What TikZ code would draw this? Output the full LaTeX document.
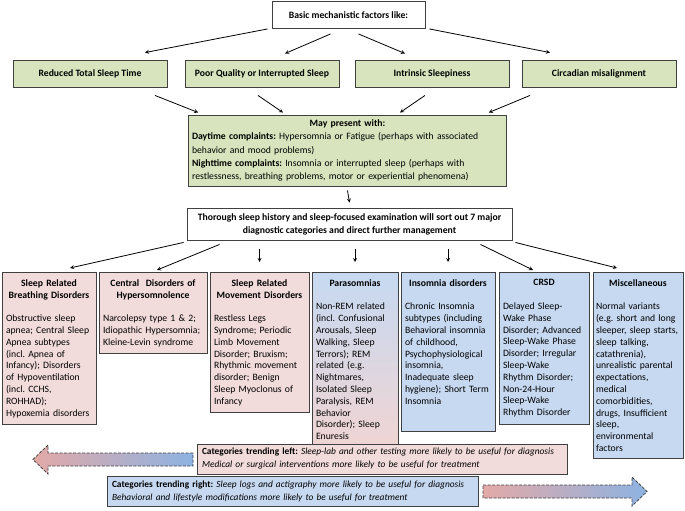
\documentclass[tikz,border=0pt]{standalone}
\usepackage{fontspec}
\setmainfont{Carlito}
\usetikzlibrary{positioning}
\frenchspacing

\definecolor{factorgreen}{HTML}{D7E4BD}
\definecolor{catpink}{HTML}{F2DCDB}
\definecolor{catblue}{HTML}{C6D9F1}
\definecolor{edgegray}{HTML}{404040}
\definecolor{trendpink}{HTML}{E3A9A7}
\definecolor{trendblue}{HTML}{8DB3E2}

\newcommand{\diagfont}{\fontsize{9.7}{11.8}\selectfont}
\newcommand{\cattitle}[1]{{\centering\bfseries #1\par}\vspace{11.8pt}}

\tikzset{
    plainbox/.style={draw=edgegray, line width=0.9pt, font=\diagfont},
    factorbox/.style={plainbox, fill=factorgreen, font=\diagfont\bfseries,
        minimum width=154pt, minimum height=27pt},
    catbox/.style={plainbox, anchor=north, align=left,
        inner xsep=4pt, inner ysep=7pt},
    trendbox/.style={plainbox, align=left, inner xsep=5pt,
        minimum height=30pt, font=\fontsize{9.4}{13}\selectfont},
    flow/.style={-stealth, line width=0.8pt},
    trendarrow/.style={draw=edgegray, line width=0.8pt,
        dash pattern=on 3pt off 1.5pt, middle color=white},
}

\begin{document}
\begin{tikzpicture}[x=1pt, y=-1pt]
    \useasboundingbox (0,0) rectangle (685,511);

    % Mechanistic factors
    \node [plainbox, fill=white, font=\diagfont\bfseries,
        minimum width=153pt,
        minimum height=27pt,
    ] (basic) at (348.5,15) {Basic mechanistic factors like:};

    \node [factorbox] (reduced) at (90,73.5) {Reduced Total Sleep Time};
    \node [factorbox] (poor) at (262,73.5) {Poor Quality or Interrupted Sleep};
    \node [factorbox] (intrinsic) at (432,73.5) {Intrinsic Sleepiness};
    \node [factorbox] (circadian) at (599,73.5) {Circadian misalignment};

    \draw[flow] ([xshift=-4pt]basic.south west) -- ([xshift=55pt,yshift=7pt]reduced.north);
    \draw[flow] ([xshift=-18pt,yshift=-5pt]basic.south) -- ([xshift=23pt,yshift=6pt]poor.north);
    \draw[flow] ([xshift=10pt,yshift=-5pt]basic.south) -- ([xshift=-27pt,yshift=6pt]intrinsic.north);
    \draw[flow] ([xshift=4pt]basic.south east) -- ([xshift=-49pt,yshift=7pt]circadian.north);

    % Complaints
    \node [plainbox, fill=factorgreen, align=left,
        text width=311pt,
        minimum height=71pt,
        font=\fontsize{9.7}{13.4}\selectfont,
    ] (present) at (347.5,150.5)
        {{\centering\bfseries May present with:\par}
        \textbf{Daytime complaints:} Hypersomnia or Fatigue (perhaps with associated\\
        behavior and mood problems)\\
        \textbf{Nighttime complaints:} Insomnia or interrupted sleep (perhaps with\\
        restlessness, breathing problems, motor or experiential phenomena)};

    \draw[flow] ([xshift=65pt,yshift=-8pt]reduced.south) -- ([xshift=10pt,yshift=2pt]present.north west);
    \draw[flow] ([xshift=-4pt,yshift=-8pt]poor.south) -- ([xshift=-64.5pt,yshift=2pt]present.north);
    \draw[flow] ([xshift=-7pt,yshift=-8pt]intrinsic.south) -- ([xshift=52.5pt,yshift=2pt]present.north);
    \draw[flow] ([xshift=-69pt,yshift=-8pt]circadian.south) -- ([xshift=-18pt,yshift=2pt]present.north east);

    % History
    \node [plainbox, fill=white, align=center,
        minimum width=325pt,
        minimum height=32pt,
        font=\fontsize{9.7}{13}\selectfont\bfseries,
    ] (thorough) at (349.5,224)
        {Thorough sleep history and sleep-focused examination will sort out 7 major\\
        diagnostic categories and direct further management};

    \draw[flow] (present.south) ++(0,4) -- ([yshift=5pt]thorough.north);

    % Categories
    \node [catbox, fill=catpink, text width=86pt] (breathing) at (49,272)
        {\cattitle{Sleep Related\\Breathing Disorders}
        Obstructive sleep\\apnea; Central Sleep\\Apnea subtypes\\(incl. Apnea of\\
        Infancy); Disorders\\of Hypoventilation\\(incl. CCHS,\\ROHHAD);\\Hypoxemia disorders};
    \node [catbox, fill=catpink, text width=100pt] (hypersom) at (153,272)
        {\cattitle{Central~ Disorders of\\Hypersomnolence}
        Narcolepsy type 1 \& 2;\\Idiopathic Hypersomnia;\\Kleine-Levin syndrome};
    \node [catbox, fill=catpink, text width=91pt] (movement) at (259.5,272)
        {\cattitle{Sleep Related\\Movement Disorders}
        Restless Legs\\Syndrome; Periodic\\Limb Movement\\Disorder; Bruxism;\\
        Rhythmic movement\\disorder; Benign\\Sleep Myoclonus of\\Infancy};
    \node [catbox, top color=catblue, bottom color=catpink!85!trendpink,
        text width=78pt] (paraso) at (355,272)
        {\cattitle{Parasomnias}
        Non-REM related\\(incl. Confusional\\Arousals, Sleep\\Walking, Sleep\\
        Terrors); REM\\related (e.g.\\Nightmares,\\Isolated Sleep\\Paralysis, REM\\
        Behavior\\Disorder); Sleep\\Enuresis};
    \node [catbox, fill=catblue, text width=86pt] (insomnia) at (448,272)
        {\cattitle{Insomnia disorders}
        Chronic Insomnia\\subtypes (including\\Behavioral insomnia\\of childhood,\\
        Psychophysiological\\insomnia,\\Inadequate sleep\\hygiene); Short Term\\Insomnia\par
        \vspace{8pt}\mbox{}};
    \node [catbox, fill=catblue, text width=82pt] (crsd) at (544,272)
        {\cattitle{CRSD}
        Delayed Sleep-\\Wake Phase\\Disorder; Advanced\\Sleep-Wake Phase\\
        Disorder; Irregular\\Sleep-Wake\\Rhythm Disorder;\\Non-24-Hour\\
        Sleep-Wake\\Rhythm Disorder};
    \node [catbox, fill=catblue, inner xsep=3pt, text width=84pt] (misc) at (638,272)
        {\cattitle{Miscellaneous}
        Normal variants\\(e.g. short and long\\sleeper, sleep starts,\\sleep talking,\\
        catathrenia),\\unrealistic parental\\expectations,\\medical\\comorbidities,\\
        drugs, Insufficient\\sleep,\\environmental\\factors};

    \draw[flow] ([xshift=-3pt,yshift=-2pt]thorough.south west) -- ([xshift=21pt,yshift=4pt]breathing.north);
    \draw[flow] ([xshift=33pt,yshift=-4pt]thorough.south west) -- ([xshift=4pt,yshift=2pt]hypersom.north);
    \draw[flow, shorten <=9pt, shorten >=10pt] (movement.north |- thorough.south) -- (movement.north);
    \draw[flow, shorten <=9pt, shorten >=10pt] (paraso.north |- thorough.south) -- (paraso.north);
    \draw[flow, shorten <=9pt, shorten >=10pt] (insomnia.north |- thorough.south) -- (insomnia.north);
    \draw[flow] ([xshift=-32pt,yshift=-4pt]thorough.south east) -- ([xshift=-11pt,yshift=2pt]crsd.north);
    \draw[flow] ([xshift=3pt,yshift=-2pt]thorough.south east) -- ([xshift=-21pt,yshift=4pt]misc.north);

    % Trends
    \node [trendbox, fill=catpink, text width=360pt] (trendleft) at (382,459)
        {\textbf{Categories trending left:} \textit{Sleep-lab and other testing more likely to be useful for diagnosis}\\
        \textit{Medical or surgical interventions more likely to be useful for treatment}};
    \node [trendbox, fill=catblue, text width=361pt] (trendright) at (292.5,491.5)
        {\textbf{Categories trending right:} \textit{Sleep logs and actigraphy more likely to be useful for diagnosis}\\
        \textit{Behavioral and lifestyle modifications more likely to be useful for treatment}};

    \shadedraw[trendarrow, left color=trendpink, right color=trendblue]
        (193,453) -- (48,453) -- (48,445) -- (33,459.5) -- (48,474) -- (48,466) -- (193,466) -- cycle;
    \shadedraw[trendarrow, left color=trendpink, right color=trendblue]
        (483,485) -- (632,485) -- (632,477) -- (647,491.5) -- (632,506) -- (632,498) -- (483,498) -- cycle;
\end{tikzpicture}
\end{document}
